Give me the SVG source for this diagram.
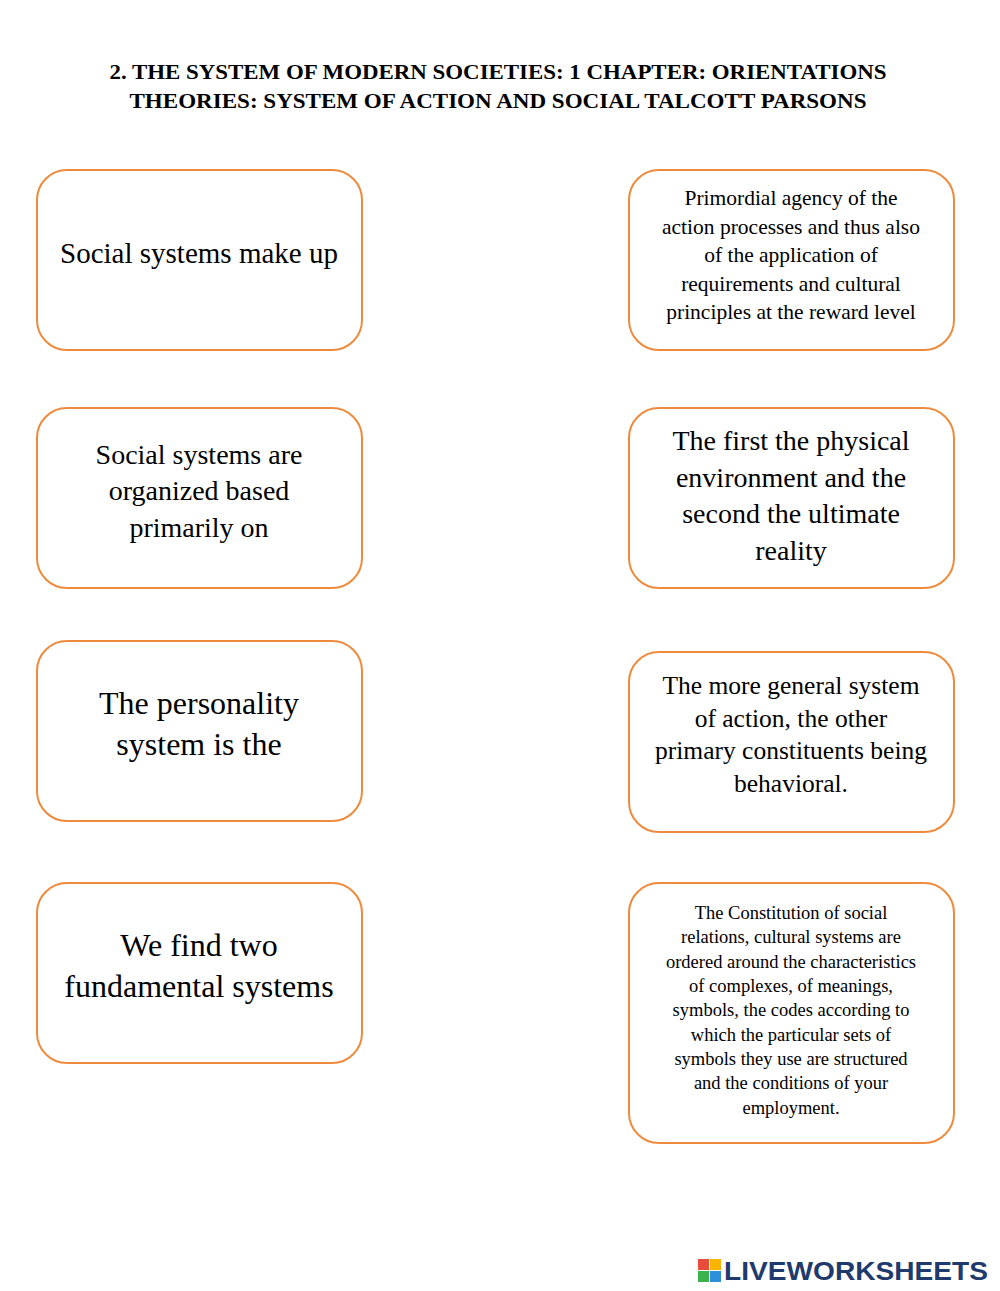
<svg xmlns="http://www.w3.org/2000/svg" width="1000" height="1291" viewBox="0 0 1000 1291">
<style>
.b{fill:#fff;stroke:#EE8A3C;stroke-width:2}
text{font-family:"Liberation Serif",serif;fill:#000;text-anchor:middle}
.t{font-weight:bold;font-size:20px}
</style>
<rect width="1000" height="1291" fill="#fff"/>
<text class="t" x="498" y="79" textLength="777" lengthAdjust="spacingAndGlyphs">2. THE SYSTEM OF MODERN SOCIETIES: 1 CHAPTER: ORIENTATIONS</text>
<text class="t" x="498" y="108" textLength="737" lengthAdjust="spacingAndGlyphs">THEORIES: SYSTEM OF ACTION AND SOCIAL TALCOTT PARSONS</text>
<g id="l1"><rect class="b" x="37" y="170" width="325" height="180" rx="30"/><text x="199" y="263" font-size="29">Social systems make up</text></g>
<g id="l2"><rect class="b" x="37" y="408" width="325" height="180" rx="30"/><text font-size="28"><tspan x="199" y="464">Social systems are</tspan><tspan x="199" y="500">organized based</tspan><tspan x="199" y="537">primarily on</tspan></text></g>
<g id="l3"><rect class="b" x="37" y="641" width="325" height="180" rx="30"/><text font-size="32"><tspan x="199" y="714">The personality</tspan><tspan x="199" y="755">system is the</tspan></text></g>
<g id="l4"><rect class="b" x="37" y="883" width="325" height="180" rx="30"/><text font-size="32"><tspan x="199" y="956">We find two</tspan><tspan x="199" y="997">fundamental systems</tspan></text></g>
<g id="r1"><rect class="b" x="629" y="170" width="325" height="180" rx="30"/><text font-size="21.5"><tspan x="791" y="205">Primordial agency of the</tspan><tspan x="791" y="234">action processes and thus also</tspan><tspan x="791" y="262">of the application of</tspan><tspan x="791" y="291">requirements and cultural</tspan><tspan x="791" y="319">principles at the reward level</tspan></text></g>
<g id="r2"><rect class="b" x="629" y="408" width="325" height="180" rx="30"/><text font-size="28"><tspan x="791" y="450">The first the physical</tspan><tspan x="791" y="487">environment and the</tspan><tspan x="791" y="523">second the ultimate</tspan><tspan x="791" y="560">reality</tspan></text></g>
<g id="r3"><rect class="b" x="629" y="652" width="325" height="180" rx="30"/><text font-size="25.5"><tspan x="791" y="694">The more general system</tspan><tspan x="791" y="727">of action, the other</tspan><tspan x="791" y="759">primary constituents being</tspan><tspan x="791" y="792">behavioral.</tspan></text></g>
<g id="r4"><rect class="b" x="629" y="883" width="325" height="260" rx="30"/><text font-size="18.5"><tspan x="791" y="919">The Constitution of social</tspan><tspan x="791" y="943">relations, cultural systems are</tspan><tspan x="791" y="968">ordered around the characteristics</tspan><tspan x="791" y="992">of complexes, of meanings,</tspan><tspan x="791" y="1016">symbols, the codes according to</tspan><tspan x="791" y="1041">which the particular sets of</tspan><tspan x="791" y="1065">symbols they use are structured</tspan><tspan x="791" y="1089">and the conditions of your</tspan><tspan x="791" y="1114">employment.</tspan></text></g>
<g id="logo">
<rect x="698" y="1259" width="11" height="11" fill="#E94B3C"/><rect x="710" y="1259" width="11" height="11" fill="#F7B500"/>
<rect x="698" y="1271" width="11" height="11" fill="#3BB34A"/><rect x="710" y="1271" width="11" height="11" fill="#2F8FD8"/>
<text x="724" y="1280" font-size="26" font-weight="bold" style="font-family:'Liberation Sans',sans-serif;text-anchor:start;fill:#1F3B6E" textLength="264" lengthAdjust="spacingAndGlyphs">LIVEWORKSHEETS</text>
</g>
</svg>
